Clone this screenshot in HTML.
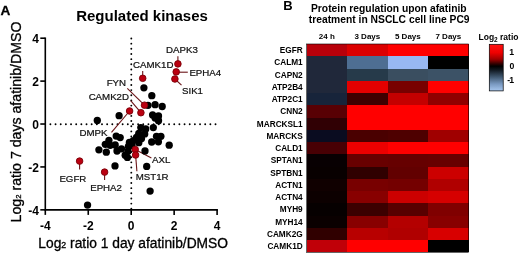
<!DOCTYPE html><html><head><meta charset="utf-8"><style>html,body{margin:0;padding:0;background:#fff;}svg{display:block;}text{font-family:"Liberation Sans",Arial,sans-serif;}</style></head><body>
<svg width="520" height="254" viewBox="0 0 520 254">
<rect width="520" height="254" fill="#fff"/>
<g>
<text x="0.4" y="14.7" font-size="13.6" font-weight="bold" stroke="#000" stroke-width="0.3">A</text>
<text x="283.3" y="10.4" font-size="13" font-weight="bold">B</text>
<text x="142" y="20.6" font-size="15" font-weight="bold" text-anchor="middle">Regulated kinases</text>
<line x1="131.3" y1="38.5" x2="131.3" y2="209" stroke="#000" stroke-width="1.9" stroke-dasharray="0 5.16" stroke-linecap="round"/>
<line x1="50.4" y1="124.2" x2="216" y2="124.2" stroke="#000" stroke-width="1.9" stroke-dasharray="0 5.16" stroke-linecap="round"/>
<g stroke="#000" stroke-width="1.6" fill="none">
<path d="M45.3 37.4 V210.6 M44.5 209.85 H217.9"/>
<path d="M40.3 38.20 H45.3"/>
<path d="M45.30 209.85 V214.9"/>
<path d="M40.3 81.11 H45.3"/>
<path d="M88.25 209.85 V214.9"/>
<path d="M40.3 124.02 H45.3"/>
<path d="M131.20 209.85 V214.9"/>
<path d="M40.3 166.93 H45.3"/>
<path d="M174.15 209.85 V214.9"/>
<path d="M40.3 209.84 H45.3"/>
<path d="M217.10 209.85 V214.9"/>
</g>
<text x="39" y="42.90" font-size="12" font-weight="bold" text-anchor="end">4</text>
<text x="39" y="85.81" font-size="12" font-weight="bold" text-anchor="end">2</text>
<text x="39" y="128.72" font-size="12" font-weight="bold" text-anchor="end">0</text>
<text x="39" y="171.63" font-size="12" font-weight="bold" text-anchor="end">-2</text>
<text x="39" y="214.54" font-size="12" font-weight="bold" text-anchor="end">-4</text>
<text x="45.30" y="229.7" font-size="12" font-weight="bold" text-anchor="middle">-4</text>
<text x="88.25" y="229.7" font-size="12" font-weight="bold" text-anchor="middle">-2</text>
<text x="131.20" y="229.7" font-size="12" font-weight="bold" text-anchor="middle">0</text>
<text x="174.15" y="229.7" font-size="12" font-weight="bold" text-anchor="middle">2</text>
<text x="217.10" y="229.7" font-size="12" font-weight="bold" text-anchor="middle">4</text>
<text x="38.3" y="248.2" font-size="13.8" stroke="#000" stroke-width="0.3">Log<tspan font-size="8.8">2</tspan> ratio 1 day afatinib/DMSO</text>
<text transform="translate(21.0 222.4) rotate(-90)" x="0" y="0" font-size="14.15" stroke="#000" stroke-width="0.3">Log<tspan font-size="7.8">2</tspan> ratio 7 days afatinib/DMSO</text>
<g stroke="#6b1518" stroke-width="1.1">
<line x1="142.7" y1="78.3" x2="142.7" y2="71.0"/>
<line x1="144.5" y1="105.2" x2="127.3" y2="88.4"/>
<line x1="140.9" y1="112.7" x2="130.7" y2="100.6"/>
<line x1="129.6" y1="111.0" x2="111.5" y2="132.3"/>
<line x1="177.9" y1="63.9" x2="177.9" y2="56.3"/>
<line x1="176.2" y1="72.2" x2="187.8" y2="72.2"/>
<line x1="174.9" y1="79.0" x2="181.5" y2="85.2"/>
<line x1="79.6" y1="161.1" x2="79.6" y2="169.6"/>
<line x1="104.6" y1="172.1" x2="104.6" y2="180.1"/>
<line x1="135.2" y1="149.5" x2="151.4" y2="157.9"/>
<line x1="135.6" y1="155.0" x2="136.9" y2="171.3"/>
</g>
<g fill="#000">
<circle cx="143.9" cy="87.8" r="3.65"/>
<circle cx="151.8" cy="95.7" r="3.65"/>
<circle cx="148" cy="105.3" r="3.65"/>
<circle cx="155.1" cy="104.7" r="3.65"/>
<circle cx="162.2" cy="106.5" r="3.65"/>
<circle cx="152.6" cy="115.0" r="3.65"/>
<circle cx="158.5" cy="115.9" r="3.65"/>
<circle cx="155.1" cy="118.0" r="3.65"/>
<circle cx="158.5" cy="120.7" r="3.65"/>
<circle cx="119.1" cy="115.7" r="3.65"/>
<circle cx="97.3" cy="120.5" r="3.65"/>
<circle cx="140.8" cy="127.6" r="3.65"/>
<circle cx="145.7" cy="128.9" r="3.65"/>
<circle cx="153.3" cy="127.6" r="3.65"/>
<circle cx="138.8" cy="133.3" r="3.65"/>
<circle cx="144.7" cy="133.9" r="3.65"/>
<circle cx="136.5" cy="137.4" r="3.65"/>
<circle cx="141.5" cy="138.5" r="3.65"/>
<circle cx="133.3" cy="140.6" r="3.65"/>
<circle cx="138.8" cy="142.7" r="3.65"/>
<circle cx="129.4" cy="142.4" r="3.65"/>
<circle cx="128.4" cy="146.4" r="3.65"/>
<circle cx="132.0" cy="145.6" r="3.65"/>
<circle cx="156.5" cy="136.3" r="3.65"/>
<circle cx="160.9" cy="136.3" r="3.65"/>
<circle cx="151.7" cy="142.0" r="3.65"/>
<circle cx="158.4" cy="141.8" r="3.65"/>
<circle cx="169.2" cy="145.2" r="3.65"/>
<circle cx="145.0" cy="150.9" r="3.65"/>
<circle cx="116.2" cy="136.1" r="3.65"/>
<circle cx="120.2" cy="137.6" r="3.65"/>
<circle cx="108.9" cy="140.5" r="3.65"/>
<circle cx="105.3" cy="144.3" r="3.65"/>
<circle cx="110.2" cy="145.3" r="3.65"/>
<circle cx="115.2" cy="145.0" r="3.65"/>
<circle cx="98.9" cy="149.8" r="3.65"/>
<circle cx="106.3" cy="152.2" r="3.65"/>
<circle cx="117.0" cy="151.0" r="3.65"/>
<circle cx="121.5" cy="148.8" r="3.65"/>
<circle cx="128.0" cy="151.3" r="3.65"/>
<circle cx="125.2" cy="155.2" r="3.65"/>
<circle cx="127.4" cy="157.4" r="3.65"/>
<circle cx="115" cy="165.9" r="3.65"/>
<circle cx="146.7" cy="166.4" r="3.65"/>
<circle cx="150.1" cy="191.1" r="3.65"/>
<circle cx="87.55" cy="205.05" r="3.65"/>
</g>
<g fill="#bb0010" stroke="#7a0008" stroke-width="0.9">
<circle cx="142.7" cy="78.3" r="3.3"/>
<circle cx="144.5" cy="105.2" r="3.3"/>
<circle cx="140.9" cy="112.7" r="3.3"/>
<circle cx="129.6" cy="111.0" r="3.3"/>
<circle cx="177.9" cy="63.9" r="3.3"/>
<circle cx="176.2" cy="71.9" r="3.3"/>
<circle cx="174.9" cy="79.0" r="3.3"/>
<circle cx="79.6" cy="161.1" r="3.3"/>
<circle cx="104.6" cy="172.1" r="3.3"/>
<circle cx="135.2" cy="149.5" r="3.3"/>
<circle cx="135.6" cy="155.0" r="3.3"/>
</g>
<g font-size="9.7" fill="#111" stroke="#111" stroke-width="0.22">
<text x="133.0" y="68.0" text-anchor="start">CAMK1D</text>
<text x="126.0" y="85.7" text-anchor="end">FYN</text>
<text x="129.0" y="99.8" text-anchor="end">CAMK2D</text>
<text x="79.5" y="135.5" text-anchor="start">DMPK</text>
<text x="166.0" y="53.3" text-anchor="start">DAPK3</text>
<text x="189.4" y="75.6" text-anchor="start">EPHA4</text>
<text x="182.0" y="93.6" text-anchor="start">SIK1</text>
<text x="59.4" y="181.9" text-anchor="start">EGFR</text>
<text x="90.2" y="191.1" text-anchor="start">EPHA2</text>
<text x="152.1" y="163.1" text-anchor="start">AXL</text>
<text x="135.7" y="180.2" text-anchor="start">MST1R</text>
</g>
<text x="388.8" y="11.95" font-size="10.3" font-weight="bold" text-anchor="middle">Protein regulation upon afatinib</text>
<text x="389.2" y="23.3" font-size="10.3" font-weight="bold" text-anchor="middle">treatment in NSCLC cell line PC9</text>
<text x="326.85" y="38.7" font-size="8" font-weight="bold" text-anchor="middle">24 h</text>
<text x="367.35" y="38.7" font-size="8" font-weight="bold" text-anchor="middle">3 Days</text>
<text x="407.85" y="38.7" font-size="8" font-weight="bold" text-anchor="middle">5 Days</text>
<text x="448.35" y="38.7" font-size="8" font-weight="bold" text-anchor="middle">7 Days</text>
<rect x="306.60" y="44.00" width="40.50" height="12.25" fill="#b8000a" shape-rendering="crispEdges"/>
<rect x="347.10" y="44.00" width="40.50" height="12.25" fill="#dc0000" shape-rendering="crispEdges"/>
<rect x="387.60" y="44.00" width="40.50" height="12.25" fill="#ff0000" shape-rendering="crispEdges"/>
<rect x="428.10" y="44.00" width="40.50" height="12.25" fill="#ff0000" shape-rendering="crispEdges"/>
<text x="302.7" y="53.13" font-size="8.25" font-weight="bold" text-anchor="end">EGFR</text>
<rect x="306.60" y="56.25" width="40.50" height="12.25" fill="#20283a" shape-rendering="crispEdges"/>
<rect x="347.10" y="56.25" width="40.50" height="12.25" fill="#4e6e92" shape-rendering="crispEdges"/>
<rect x="387.60" y="56.25" width="40.50" height="12.25" fill="#98b8f2" shape-rendering="crispEdges"/>
<rect x="428.10" y="56.25" width="40.50" height="12.25" fill="#000000" shape-rendering="crispEdges"/>
<text x="302.7" y="65.38" font-size="8.25" font-weight="bold" text-anchor="end">CALM1</text>
<rect x="306.60" y="68.51" width="40.50" height="12.25" fill="#20283a" shape-rendering="crispEdges"/>
<rect x="347.10" y="68.51" width="40.50" height="12.25" fill="#263a4a" shape-rendering="crispEdges"/>
<rect x="387.60" y="68.51" width="40.50" height="12.25" fill="#3a4e60" shape-rendering="crispEdges"/>
<rect x="428.10" y="68.51" width="40.50" height="12.25" fill="#3c5266" shape-rendering="crispEdges"/>
<text x="302.7" y="77.63" font-size="8.25" font-weight="bold" text-anchor="end">CAPN2</text>
<rect x="306.60" y="80.76" width="40.50" height="12.25" fill="#20283a" shape-rendering="crispEdges"/>
<rect x="347.10" y="80.76" width="40.50" height="12.25" fill="#e40000" shape-rendering="crispEdges"/>
<rect x="387.60" y="80.76" width="40.50" height="12.25" fill="#780000" shape-rendering="crispEdges"/>
<rect x="428.10" y="80.76" width="40.50" height="12.25" fill="#ff0000" shape-rendering="crispEdges"/>
<text x="302.7" y="89.89" font-size="8.25" font-weight="bold" text-anchor="end">ATP2B4</text>
<rect x="306.60" y="93.01" width="40.50" height="12.25" fill="#17243a" shape-rendering="crispEdges"/>
<rect x="347.10" y="93.01" width="40.50" height="12.25" fill="#3e0000" shape-rendering="crispEdges"/>
<rect x="387.60" y="93.01" width="40.50" height="12.25" fill="#c40000" shape-rendering="crispEdges"/>
<rect x="428.10" y="93.01" width="40.50" height="12.25" fill="#900000" shape-rendering="crispEdges"/>
<text x="302.7" y="102.14" font-size="8.25" font-weight="bold" text-anchor="end">ATP2C1</text>
<rect x="306.60" y="105.26" width="40.50" height="12.25" fill="#580004" shape-rendering="crispEdges"/>
<rect x="347.10" y="105.26" width="40.50" height="12.25" fill="#ff0000" shape-rendering="crispEdges"/>
<rect x="387.60" y="105.26" width="40.50" height="12.25" fill="#ff0000" shape-rendering="crispEdges"/>
<rect x="428.10" y="105.26" width="40.50" height="12.25" fill="#ff0000" shape-rendering="crispEdges"/>
<text x="302.7" y="114.39" font-size="8.25" font-weight="bold" text-anchor="end">CNN2</text>
<rect x="306.60" y="117.52" width="40.50" height="12.25" fill="#300004" shape-rendering="crispEdges"/>
<rect x="347.10" y="117.52" width="40.50" height="12.25" fill="#ff0000" shape-rendering="crispEdges"/>
<rect x="387.60" y="117.52" width="40.50" height="12.25" fill="#ff0000" shape-rendering="crispEdges"/>
<rect x="428.10" y="117.52" width="40.50" height="12.25" fill="#ff0000" shape-rendering="crispEdges"/>
<text x="302.7" y="126.64" font-size="8.25" font-weight="bold" text-anchor="end">MARCKSL1</text>
<rect x="306.60" y="129.77" width="40.50" height="12.25" fill="#0a0c20" shape-rendering="crispEdges"/>
<rect x="347.10" y="129.77" width="40.50" height="12.25" fill="#4a0000" shape-rendering="crispEdges"/>
<rect x="387.60" y="129.77" width="40.50" height="12.25" fill="#4e0000" shape-rendering="crispEdges"/>
<rect x="428.10" y="129.77" width="40.50" height="12.25" fill="#a00000" shape-rendering="crispEdges"/>
<text x="302.7" y="138.90" font-size="8.25" font-weight="bold" text-anchor="end">MARCKS</text>
<rect x="306.60" y="142.02" width="40.50" height="12.25" fill="#480004" shape-rendering="crispEdges"/>
<rect x="347.10" y="142.02" width="40.50" height="12.25" fill="#ec0000" shape-rendering="crispEdges"/>
<rect x="387.60" y="142.02" width="40.50" height="12.25" fill="#ff0000" shape-rendering="crispEdges"/>
<rect x="428.10" y="142.02" width="40.50" height="12.25" fill="#ff0000" shape-rendering="crispEdges"/>
<text x="302.7" y="151.15" font-size="8.25" font-weight="bold" text-anchor="end">CALD1</text>
<rect x="306.60" y="154.28" width="40.50" height="12.25" fill="#080002" shape-rendering="crispEdges"/>
<rect x="347.10" y="154.28" width="40.50" height="12.25" fill="#680000" shape-rendering="crispEdges"/>
<rect x="387.60" y="154.28" width="40.50" height="12.25" fill="#660000" shape-rendering="crispEdges"/>
<rect x="428.10" y="154.28" width="40.50" height="12.25" fill="#680000" shape-rendering="crispEdges"/>
<text x="302.7" y="163.40" font-size="8.25" font-weight="bold" text-anchor="end">SPTAN1</text>
<rect x="306.60" y="166.53" width="40.50" height="12.25" fill="#080000" shape-rendering="crispEdges"/>
<rect x="347.10" y="166.53" width="40.50" height="12.25" fill="#300000" shape-rendering="crispEdges"/>
<rect x="387.60" y="166.53" width="40.50" height="12.25" fill="#620000" shape-rendering="crispEdges"/>
<rect x="428.10" y="166.53" width="40.50" height="12.25" fill="#cc0000" shape-rendering="crispEdges"/>
<text x="302.7" y="175.66" font-size="8.25" font-weight="bold" text-anchor="end">SPTBN1</text>
<rect x="306.60" y="178.78" width="40.50" height="12.25" fill="#100000" shape-rendering="crispEdges"/>
<rect x="347.10" y="178.78" width="40.50" height="12.25" fill="#780000" shape-rendering="crispEdges"/>
<rect x="387.60" y="178.78" width="40.50" height="12.25" fill="#740000" shape-rendering="crispEdges"/>
<rect x="428.10" y="178.78" width="40.50" height="12.25" fill="#b00000" shape-rendering="crispEdges"/>
<text x="302.7" y="187.91" font-size="8.25" font-weight="bold" text-anchor="end">ACTN1</text>
<rect x="306.60" y="191.04" width="40.50" height="12.25" fill="#0c0000" shape-rendering="crispEdges"/>
<rect x="347.10" y="191.04" width="40.50" height="12.25" fill="#880000" shape-rendering="crispEdges"/>
<rect x="387.60" y="191.04" width="40.50" height="12.25" fill="#cc0000" shape-rendering="crispEdges"/>
<rect x="428.10" y="191.04" width="40.50" height="12.25" fill="#d60000" shape-rendering="crispEdges"/>
<text x="302.7" y="200.16" font-size="8.25" font-weight="bold" text-anchor="end">ACTN4</text>
<rect x="306.60" y="203.29" width="40.50" height="12.25" fill="#060000" shape-rendering="crispEdges"/>
<rect x="347.10" y="203.29" width="40.50" height="12.25" fill="#3c0000" shape-rendering="crispEdges"/>
<rect x="387.60" y="203.29" width="40.50" height="12.25" fill="#580000" shape-rendering="crispEdges"/>
<rect x="428.10" y="203.29" width="40.50" height="12.25" fill="#800000" shape-rendering="crispEdges"/>
<text x="302.7" y="212.41" font-size="8.25" font-weight="bold" text-anchor="end">MYH9</text>
<rect x="306.60" y="215.54" width="40.50" height="12.25" fill="#0a0000" shape-rendering="crispEdges"/>
<rect x="347.10" y="215.54" width="40.50" height="12.25" fill="#880000" shape-rendering="crispEdges"/>
<rect x="387.60" y="215.54" width="40.50" height="12.25" fill="#b40000" shape-rendering="crispEdges"/>
<rect x="428.10" y="215.54" width="40.50" height="12.25" fill="#880000" shape-rendering="crispEdges"/>
<text x="302.7" y="224.67" font-size="8.25" font-weight="bold" text-anchor="end">MYH14</text>
<rect x="306.60" y="227.79" width="40.50" height="12.25" fill="#300000" shape-rendering="crispEdges"/>
<rect x="347.10" y="227.79" width="40.50" height="12.25" fill="#b80000" shape-rendering="crispEdges"/>
<rect x="387.60" y="227.79" width="40.50" height="12.25" fill="#b00000" shape-rendering="crispEdges"/>
<rect x="428.10" y="227.79" width="40.50" height="12.25" fill="#d80000" shape-rendering="crispEdges"/>
<text x="302.7" y="236.92" font-size="8.25" font-weight="bold" text-anchor="end">CAMK2G</text>
<rect x="306.60" y="240.05" width="40.50" height="12.25" fill="#c00008" shape-rendering="crispEdges"/>
<rect x="347.10" y="240.05" width="40.50" height="12.25" fill="#ff0000" shape-rendering="crispEdges"/>
<rect x="387.60" y="240.05" width="40.50" height="12.25" fill="#ff0000" shape-rendering="crispEdges"/>
<rect x="428.10" y="240.05" width="40.50" height="12.25" fill="#000000" shape-rendering="crispEdges"/>
<text x="302.7" y="249.17" font-size="8.25" font-weight="bold" text-anchor="end">CAMK1D</text>
<rect x="306.6" y="44.0" width="162.0" height="208.3" fill="none" stroke="#000" stroke-width="0.6"/>
<defs><linearGradient id="lg" x1="0" y1="0" x2="0" y2="1"><stop offset="0" stop-color="#ff1010"/><stop offset="0.18" stop-color="#f00000"/><stop offset="0.32" stop-color="#a00000"/><stop offset="0.42" stop-color="#300000"/><stop offset="0.47" stop-color="#000000"/><stop offset="0.55" stop-color="#101820"/><stop offset="0.7" stop-color="#405870"/><stop offset="0.85" stop-color="#7898c0"/><stop offset="1" stop-color="#a8c8f0"/></linearGradient></defs>
<rect x="489.3" y="44.3" width="13.9" height="46.6" fill="url(#lg)" stroke="#000" stroke-width="0.7"/>
<text x="478.5" y="39.8" font-size="8.5" font-weight="bold">Log<tspan font-size="6.5" dy="2">2</tspan><tspan dy="-2"> ratio</tspan></text>
<text x="514.2" y="54.8" font-size="8.7" font-weight="bold" text-anchor="end">1</text>
<text x="514.4" y="68.8" font-size="8.7" font-weight="bold" text-anchor="end">0</text>
<text x="514.2" y="83.2" font-size="8.7" font-weight="bold" text-anchor="end">-<tspan dx="-0.9">1</tspan></text>
</g></svg></body></html>
